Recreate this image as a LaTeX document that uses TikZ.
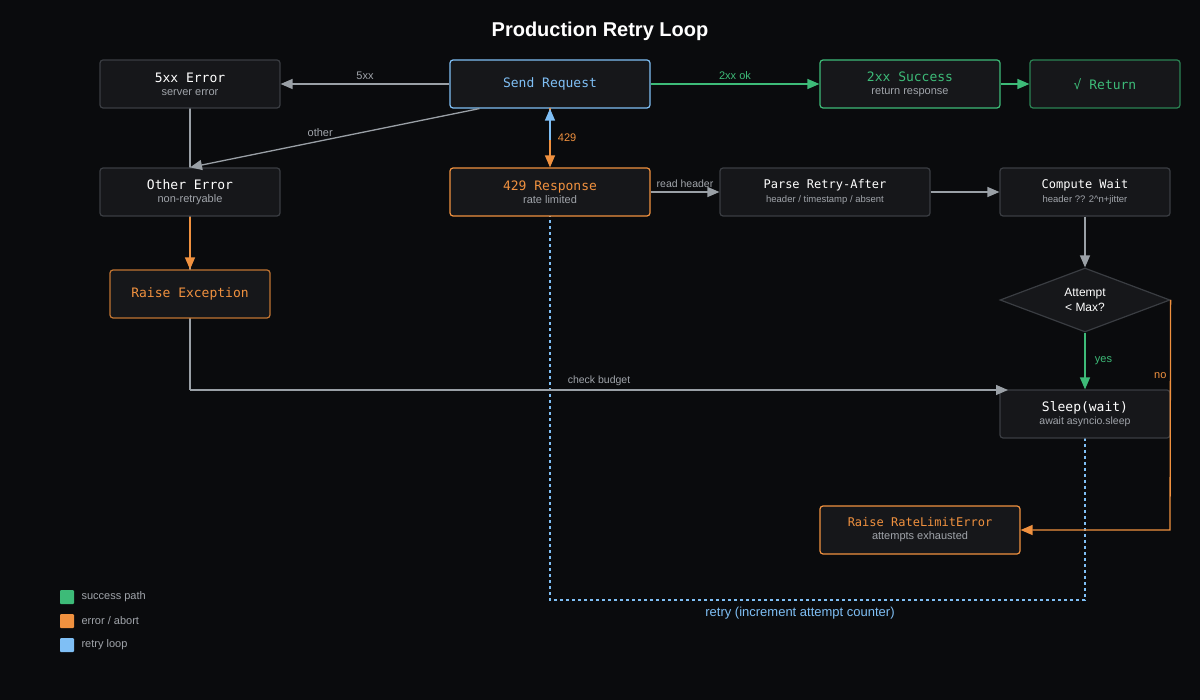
\documentclass[tikz,border=0pt]{standalone}
\usepackage{fontspec}
\setmainfont{Liberation Sans}
\setmonofont{DejaVu Sans Mono}
\usetikzlibrary{shapes.geometric,arrows.meta}
\definecolor{bg}{HTML}{0A0B0D}
\definecolor{boxf}{HTML}{16171A}
\definecolor{boxb}{HTML}{3A3D42}
\definecolor{gr}{HTML}{3DBB78}
\definecolor{orn}{HTML}{F0913F}
\definecolor{blu}{HTML}{7FBFF5}
\definecolor{gry}{HTML}{9AA0A6}
\definecolor{sub}{HTML}{A0A4AA}
\begin{document}
\begin{tikzpicture}[x=1pt,y=-1pt,
  box/.style={draw=boxb,fill=boxf,rounded corners=3pt,line width=1.2pt,minimum width=#1,minimum height=48pt,inner sep=0pt,align=center},
  box/.default=180pt,
  ttl/.style={font=\ttfamily\fontsize{13}{15}\selectfont,text=white},
  sb/.style={font=\fontsize{11}{13}\selectfont,text=sub},
  msb/.style={font=\ttfamily\fontsize{9.5}{12}\selectfont,text=sub},
  ar/.style={-{Triangle[length=12pt,width=10pt]},line width=1.3pt},
  lbl/.style={font=\fontsize{11}{13}\selectfont}]
\fill[bg] (0,0) rectangle (1200,700);
\useasboundingbox (0,0) rectangle (1200,700);
\node[font=\bfseries\fontsize{20}{24}\selectfont,text=white] (title) at (600,31) {Production Retry Loop};
% back lines
\coordinate (c1) at (190,390);
\coordinate (r1) at (1085,600);
\coordinate (r2) at (550,600);
\draw[gry,line width=1.3pt] (190,108) -- (c1);
\draw[blu,dashed,line width=1.3pt] (1085,438) -- (r1) -- (r2) -- (550,190);
% nodes
\node[box] (e5) at (190,84) {\ttfamily\fontsize{13}{15}\selectfont\color{white}5xx Error\\[1pt]\fontsize{11}{13}\rmfamily\color{sub}server error};
\node[box=200pt,draw=blu] (send) at (550,84) {\ttfamily\fontsize{13}{15}\selectfont\color{blu}Send Request};
\node[box,draw=gr] (ok) at (910,84) {\ttfamily\fontsize{13}{15}\selectfont\color{gr}2xx Success\\[1pt]\fontsize{11}{13}\rmfamily\color{sub}return response};
\node[box=150pt,draw=gr!70!black] (ret) at (1105,84) {\ttfamily\fontsize{13}{15}\selectfont\color{gr}√ Return};
\node[box] (oe) at (190,192) {\ttfamily\fontsize{13}{15}\selectfont\color{white}Other Error\\[1pt]\fontsize{11}{13}\rmfamily\color{sub}non-retryable};
\node[box=200pt,draw=orn] (r429) at (550,192) {\ttfamily\fontsize{13}{15}\selectfont\color{orn}429 Response\\[1pt]\fontsize{11}{13}\rmfamily\color{sub}rate limited};
\node[box=210pt] (parse) at (825,192) {\ttfamily\fontsize{12}{15}\selectfont\color{white}Parse Retry-After\\[2pt]\fontsize{9.5}{12}\selectfont\color{sub}header / timestamp / absent};
\node[box=170pt] (comp) at (1085,192) {\ttfamily\fontsize{12}{15}\selectfont\color{white}Compute Wait\\[2pt]\fontsize{9.5}{12}\selectfont\color{sub}header ?? 2\^{}n+jitter};
\node[box=160pt,draw=orn!80!black] (rex) at (190,294) {\ttfamily\fontsize{13}{15}\selectfont\color{orn}Raise Exception};
\node[diamond,aspect=2.65,draw=boxb,fill=boxf,line width=1.2pt,minimum width=170pt,minimum height=64pt,inner sep=0pt,align=center,font=\fontsize{12}{15}\selectfont,text=white] (dia) at (1085,300) {Attempt\\< Max?};
\node[box=170pt] (sleep) at (1085,414) {\ttfamily\fontsize{13}{15}\selectfont\color{white}Sleep(wait)\\[1pt]\fontsize{10.5}{13}\selectfont\color{sub}await asyncio.sleep};
\node[box=200pt,draw=orn] (rle) at (920,530) {\ttfamily\fontsize{12}{15}\selectfont\color{orn}Raise RateLimitError\\[1pt]\fontsize{11}{13}\rmfamily\color{sub}attempts exhausted};
% edges
\draw[ar,gry] (send) -- node[above,lbl,text=sub]{5xx} (e5);
\draw[ar,gr] (send) -- node[above,lbl,text=gr]{2xx ok} (ok);
\draw[ar,gr] (ok) -- (ret);
\draw[ar,gry] (send.south west) ++(30,0) -- node[above,lbl,text=sub,pos=0.55]{other} (oe.north);
\draw[ar,orn] (550,108) -- node[right,lbl,text=orn,xshift=4pt]{429} (r429.north);
\draw[ar,blu] (550,140) -- (send.south);
\draw[ar,gry] (r429) -- node[above,lbl,text=sub,font=\fontsize{10.5}{13}\selectfont]{read header} (parse);
\draw[ar,gry] (parse) -- (comp);
\draw[ar,gry] (comp) -- (dia);
\draw[ar,gr] (dia) -- node[right,lbl,text=gr,xshift=6pt]{yes} (sleep);
\draw[ar,orn] (dia.east) -- (1170,530) node[pos=0.33,left,lbl,text=orn]{no} -- (rle.east);
\draw[ar,orn] (oe) -- (rex);
\draw[ar,gry] (c1) -- node[above,lbl,text=sub,font=\fontsize{10.5}{13}\selectfont]{check budget} (1008,390);
\node[lbl,text=blu,font=\fontsize{13}{15}\selectfont] (rl) at (800,613) {retry (increment attempt counter)};
% legend
\foreach \c/\t/\y [count=\i] in {gr/success path/597,orn/error \slash{} abort/621,blu/retry loop/645}{
  \fill[\c,rounded corners=1pt] (60,\y-7) rectangle (74,\y+7);
  \node[anchor=west,lbl,text=sub] (lg\i) at (78,\y) {\t};
}
\end{tikzpicture}
\end{document}
